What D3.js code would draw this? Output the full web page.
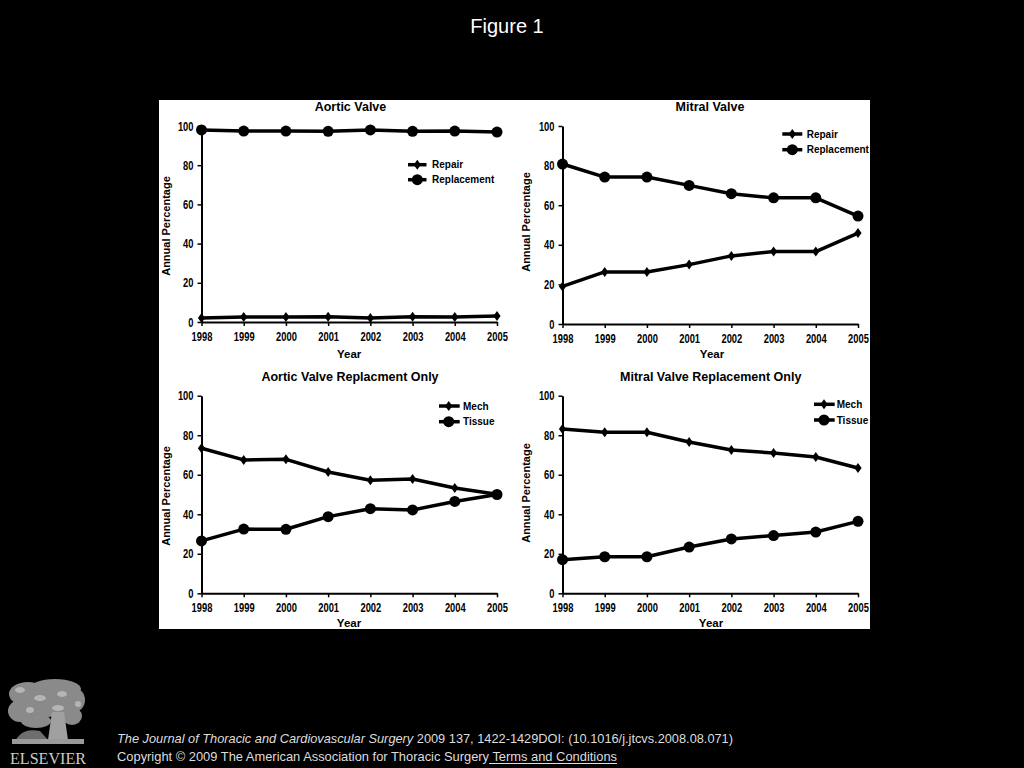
<!DOCTYPE html>
<html><head><meta charset="utf-8">
<script src="https://cdn.jsdelivr.net/npm/d3@7"></script>
<style>body{margin:0;background:#000;} svg{display:block;font-family:"Liberation Sans",Arial,sans-serif}</style>
</head><body>
<svg id="c" width="1024" height="768"></svg>
<script>
// ---------- data ----------
const years = [1998,1999,2000,2001,2002,2003,2004,2005];
const yTicks = [0,20,40,60,80,100];
const aorticRepair      = [2.0,2.6,2.6,2.7,2.0,2.7,2.6,3.1];
const aorticReplacement = [98.0,97.4,97.4,97.3,98.0,97.3,97.4,96.9];
const mitralRepair      = [19.0,26.3,26.3,30.0,34.4,36.6,36.6,45.9];
const mitralReplacement = [80.8,74.2,74.2,70.0,65.8,63.7,63.7,54.5];
const avrMech   = [73.4,67.5,67.8,61.4,57.2,57.8,53.3,50.1];
const avrTissue = [26.5,32.5,32.4,38.8,42.8,42.2,46.5,50.0];
const mvrMech   = [83.1,81.5,81.5,76.6,72.5,71.0,69.0,63.4];
const mvrTissue = [17.0,18.5,18.5,23.4,27.5,29.2,31.0,36.4];
const panelTitles = ["Aortic Valve","Mitral Valve","Aortic Valve Replacment Only","Mitral Valve Replacement Only"];
const seriesNames = [["Repair","Replacement"],["Repair","Replacement"],["Mech","Tissue"],["Mech","Tissue"]];
const panelSeries = [[aorticRepair,aorticReplacement],[mitralRepair,mitralReplacement],[avrMech,avrTissue],[mvrMech,mvrTissue]];
const xLabel = "Year", yLabel = "Annual Percentage";
const figTitle = "Figure 1";
const footerItalic = "The Journal of Thoracic and Cardiovascular Surgery";
const footerRest = " 2009 137, 1422-1429DOI: (10.1016/j.jtcvs.2008.08.071)";
const copyText = "Copyright \u00A9 2009 The American Association for Thoracic Surgery";
const termsText = " Terms and Conditions";

// ---------- layout ----------
const layout = [
  {x0:201.5,x1:497,yb:322,yt:126,tx:350.5,ty:110.5,yrX:349.2,yrY:357.5,ylX:169.5,ylY:226,
   lg:{a:408,b:426.5,m:417.3,t:432,r:[164.7,179.7]}},
  {x0:562.5,x1:858,yb:324,yt:126,tx:710,ty:111,yrX:712,yrY:357.5,ylX:530,ylY:222,
   lg:{a:782.3,b:802.3,m:792.3,t:806.7,r:[134,149.7]}},
  {x0:201.5,x1:497,yb:593.3,yt:395.7,tx:350,ty:380.5,yrX:349,yrY:627,ylX:169.5,ylY:496,
   lg:{a:439,b:459.7,m:448.7,t:463,r:[406,421.7]}},
  {x0:562.5,x1:858,yb:593.3,yt:395.7,tx:710.7,ty:380.5,yrX:711,yrY:627,ylX:530,ylY:493,
   lg:{a:814,b:834.7,m:824,t:836.7,r:[404.3,420]}}
];

const svg = d3.select("#c");
svg.append("rect").attr("width",1024).attr("height",768).attr("fill","#000");
svg.append("text").attr("x",507).attr("y",33).attr("text-anchor","middle")
  .attr("font-size",20).attr("fill","#fff").text(figTitle);
svg.append("rect").attr("x",159).attr("y",100).attr("width",711).attr("height",529).attr("fill","#fff");

const diamond = "M0,-5L3.6,0L0,5L-3.6,0Z";
function marker(g, kind, x, y){
  if(kind===0) g.append("path").attr("d",diamond).attr("transform",`translate(${x},${y})`).attr("fill","#000");
  else g.append("circle").attr("cx",x).attr("cy",y).attr("r",5.5).attr("fill","#000");
}

layout.forEach((L,i)=>{
  const g = svg.append("g");
  const x = d3.scaleLinear().domain([years[0],years[years.length-1]]).range([L.x0,L.x1]);
  const y = d3.scaleLinear().domain([0,100]).range([L.yb,L.yt]);
  const ya = g.append("g").attr("transform",`translate(${L.x0},0)`)
    .call(d3.axisLeft(y).tickValues(yTicks).tickSize(4).tickSizeOuter(0).tickPadding(4));
  const xa = g.append("g").attr("transform",`translate(0,${L.yb})`)
    .call(d3.axisBottom(x).tickValues(years).tickFormat(d3.format("d")).tickSize(4).tickSizeOuter(0).tickPadding(5));
  [ya,xa].forEach(a=>{
    a.select(".domain").attr("stroke","#000").attr("stroke-width",2);
    a.selectAll(".tick line").attr("stroke","#000").attr("stroke-width",1.5);
    a.selectAll(".tick text").attr("fill","#000").attr("font-size",12.5).attr("font-weight","bold")
      .attr("font-family","'Liberation Sans',Arial,sans-serif")
      .attr("textLength",function(){return this.textContent.length*5.2;})
      .attr("lengthAdjust","spacingAndGlyphs");
  });
  xa.selectAll(".tick text").attr("dy",null).attr("y",18.5);
  g.append("text").attr("x",L.tx).attr("y",L.ty).attr("text-anchor","middle")
    .attr("font-size",12.5).attr("font-weight","bold").text(panelTitles[i]);
  g.append("text").attr("x",L.yrX).attr("y",L.yrY).attr("text-anchor","middle")
    .attr("font-size",11.5).attr("font-weight","bold").text(xLabel);
  g.append("text").attr("transform",`translate(${L.ylX},${L.ylY}) rotate(-90)`).attr("text-anchor","middle")
    .attr("font-size",11).attr("font-weight","bold").text(yLabel);
  const line = d3.line().x((d,j)=>x(years[j])).y(d=>y(d));
  panelSeries[i].forEach((s,k)=>{
    g.append("path").attr("d",line(s)).attr("fill","none").attr("stroke","#000")
      .attr("stroke-width",3.5).attr("stroke-linejoin","round");
    s.forEach((v,j)=>marker(g,k,x(years[j]),y(v)));
  });
  seriesNames[i].forEach((nm,k)=>{
    const ry = L.lg.r[k];
    g.append("line").attr("x1",L.lg.a).attr("x2",L.lg.b).attr("y1",ry).attr("y2",ry)
      .attr("stroke","#000").attr("stroke-width",3.5);
    marker(g,k,L.lg.m,ry);
    g.append("text").attr("x",L.lg.t).attr("y",ry+3.6).attr("font-size",10).attr("font-weight","bold").text(nm);
  });
});

// ---------- footer ----------
const f1 = svg.append("text").attr("x",117).attr("y",743).attr("font-size",13).attr("fill","#ddd")
  .attr("textLength",616).attr("lengthAdjust","spacingAndGlyphs");
f1.append("tspan").attr("font-style","italic").text(footerItalic);
f1.append("tspan").text(footerRest);
const f2 = svg.append("text").attr("x",117).attr("y",761).attr("font-size",13).attr("fill","#ddd")
  .attr("textLength",500).attr("lengthAdjust","spacingAndGlyphs");
f2.append("tspan").text(copyText);
f2.append("tspan").text(termsText);
try{
  const st = f2.node().getStartPositionOfChar(copyText.length).x;
  svg.append("line").attr("x1",st).attr("x2",617).attr("y1",763.5).attr("y2",763.5).attr("stroke","#ddd").attr("stroke-width",1);
}catch(e){}

// ---------- Elsevier logo (decorative) ----------
const logo = svg.append("g");
const blobs = [[28,694,19,12],[55,689,26,10],[74,700,11,12],[20,711,12,11],[46,705,24,12],[72,716,10,9],[36,721,15,7]];
blobs.forEach(b=>logo.append("ellipse").attr("cx",b[0]).attr("cy",b[1]).attr("rx",b[2]).attr("ry",b[3]).attr("fill","#8a8a8a"));
const spots = [[20,690,5,3],[40,698,6,3],[62,694,5,3],[30,710,4,3],[58,708,6,3],[78,704,3,3]];
spots.forEach(b=>logo.append("ellipse").attr("cx",b[0]).attr("cy",b[1]).attr("rx",b[2]).attr("ry",b[3]).attr("fill","#b5b5b5"));
logo.append("path").attr("d","M52,712 L64,712 L68,740 L48,740 Z").attr("fill","#a0a0a0");
logo.append("path").attr("d","M14,744 Q20,727 40,731 L48,740 Z").attr("fill","#6e6e6e");
logo.append("rect").attr("x",12).attr("y",739).attr("width",72).attr("height",5).attr("fill","#999");
logo.append("text").attr("x",10).attr("y",764).attr("font-family","'Liberation Serif','DejaVu Serif',serif")
  .attr("font-size",16).attr("fill","#ccc").attr("textLength",76).attr("lengthAdjust","spacingAndGlyphs").text("ELSEVIER");
</script>
</body></html>
